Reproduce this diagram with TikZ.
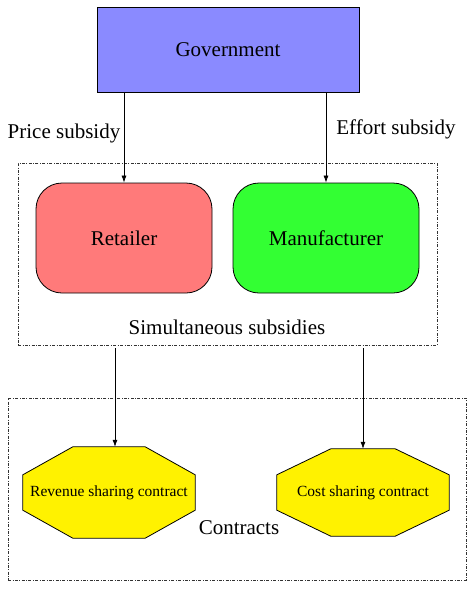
\documentclass[tikz,border=0pt]{standalone}
\usepackage{fontspec}
\setmainfont{Liberation Serif}
\usetikzlibrary{shapes,arrows,positioning}
\usetikzlibrary{arrows.meta}
\usetikzlibrary{backgrounds,calc}
\begin{document}
\begin{tikzpicture}[
      x=1pt,y=-1pt,
      mybox/.style={
         rectangle,
         draw=black,
         line width=0.8pt,
         inner sep=0pt,
         font=\fontsize{21}{25}\selectfont},
      myround/.style={
         mybox,
         rounded corners=26pt,
         minimum height=110pt},
      myocta/.style={
         rectangle,
         inner sep=0pt,
         minimum width=172pt,
         font=\fontsize{15.5}{18}\selectfont},
      mygroup/.style={
         rectangle,
         draw=black!80,
         line width=0.5pt,
         dash pattern=on 3pt off 1.5pt on 0.8pt off 1.5pt,
         inner sep=0pt},
      mylabel/.style={font=\fontsize{21}{25}\selectfont,inner sep=0pt},
      myarrow/.style={-{Latex[length=7pt,width=5pt]},line width=0.7pt}
      ]
      \useasboundingbox (0,0) rectangle (474,590);
      % groups
      \node[mygroup,minimum width=419pt,minimum height=182pt] (subs) at (227.5,254) {};
      \node[mygroup,minimum width=458pt,minimum height=182pt] (cons) at (237,489) {};
      % boxes
      \node[mybox,fill={rgb,255:red,138;green,138;blue,255},
            minimum width=262pt,minimum height=85pt] (gov) at (228,49.5) {Government};
      \node[myround,fill={rgb,255:red,255;green,122;blue,122},
            minimum width=176pt] (ret) at (124,238) {Retailer};
      \node[myround,fill={rgb,255:red,51;green,255;blue,51},
            minimum width=186pt] (man) at (326,238) {Manufacturer};
      \node[myocta,minimum height=91pt] (rev) at (109,492.5) {Revenue sharing contract};
      \node[myocta,minimum height=87pt] (cost) at (363,492.5) {Cost sharing contract};
      % octagon outlines behind the contract texts
      \begin{scope}[on background layer]
      \foreach \n/\cx/\cy in {rev/50/28, cost/54/26}
        \draw [fill=yellow,line width=0.8pt]
          ($(\n.north west)+(\cx,0)$) -- ($(\n.north east)+(-\cx,0)$) --
          ($(\n.north east)+(0,\cy)$) -- ($(\n.south east)+(0,-\cy)$) --
          ($(\n.south east)+(-\cx,0)$) -- ($(\n.south west)+(\cx,0)$) --
          ($(\n.south west)+(0,-\cy)$) -- ($(\n.north west)+(0,\cy)$) -- cycle;
      \end{scope}
      % labels
      \node[mylabel] (price) at (64,133) {Price subsidy};
      \node[mylabel] (effort) at (396,129) {Effort subsidy};
      \node[mylabel] (simul) at (227,327) {Simultaneous subsidies};
      \node[mylabel] (contr) at (239,528) {Contracts};

    \draw [myarrow] (gov.south -| ret.north) -- (ret.north);
    \draw [myarrow] (gov.south -| man.north) -- (man.north);
    \draw [myarrow,shorten <=3pt] ([xshift=6pt]subs.south -| rev.north) -- ([xshift=6pt]rev.north);
    \draw [myarrow,shorten <=3pt] (subs.south -| cost.north) -- (cost.north);
    \end{tikzpicture}
\end{document}
